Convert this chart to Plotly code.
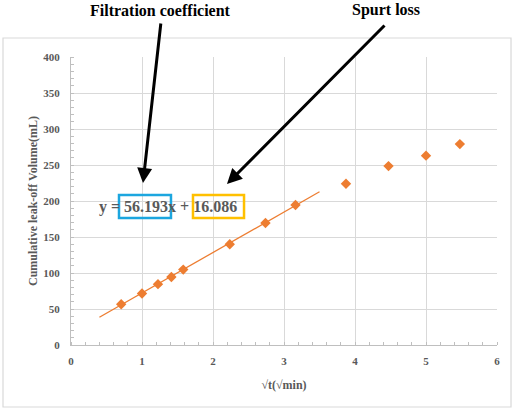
import plotly.graph_objects as go

# measured points: sqrt(t) vs cumulative leak-off volume
sqrt_t = [0.707, 1.0, 1.225, 1.414, 1.581, 2.236, 2.739, 3.162, 3.873, 4.472, 5.0, 5.477]
volume = [56.5, 71.5, 84.5, 94.5, 104.7, 140, 169.5, 194.5, 224, 248.5, 263, 279]

# linear trendline shown on the chart
slope = 56.193
intercept = 16.086
trend_x = [0.4, 3.5]
trend_y = [slope * v + intercept for v in trend_x]

x_ticks = [0, 1, 2, 3, 4, 5, 6]
y_ticks = [0, 50, 100, 150, 200, 250, 300, 350, 400]

SERIF = "Liberation Serif"
GREY = "#595959"
ORANGE = "#ED7D31"

fig = go.Figure()

fig.add_trace(go.Scatter(x=trend_x, y=trend_y, mode="lines",
                         line=dict(color=ORANGE, width=1.3),
                         showlegend=False, hoverinfo="skip"))
fig.add_trace(go.Scatter(x=sqrt_t, y=volume, mode="markers",
                         marker=dict(symbol="diamond", size=8, color=ORANGE),
                         showlegend=False))

fig.update_layout(
    width=520, height=409,
    margin=dict(l=71, r=23, t=57, b=64),
    paper_bgcolor="white", plot_bgcolor="white",
    font=dict(family=SERIF, color=GREY),
    xaxis=dict(range=[0, 6], tickvals=x_ticks, showgrid=True, gridcolor="#D9D9D9",
               showline=True, linecolor="#BFBFBF", zeroline=False, ticks="",
               ticklabelstandoff=6,
               minor=dict(dtick=0.2, ticks="inside", ticklen=3, tickcolor="#BFBFBF", showgrid=False),
               tickfont=dict(family=SERIF, size=11, color=GREY, weight="bold"),
               title=dict(text="√t(√min)", standoff=14,
                          font=dict(family=SERIF, size=12, color=GREY, weight="bold"))),
    yaxis=dict(range=[0, 400], tickvals=y_ticks, showgrid=True, gridcolor="#D9D9D9",
               showline=True, linecolor="#BFBFBF", zeroline=False, ticks="",
               ticklabelstandoff=8,
               minor=dict(dtick=10, ticks="inside", ticklen=3, tickcolor="#BFBFBF", showgrid=False),
               tickfont=dict(family=SERIF, size=11, color=GREY, weight="bold"),
               title=dict(text="Cumulative leak-off Volume(mL)", standoff=3,
                          font=dict(family=SERIF, size=12, color=GREY, weight="bold"))),
)

# outer chart frame
fig.add_shape(type="rect", xref="paper", yref="paper",
              x0=-0.1596, x1=1.0329, y0=-0.2153, y1=1.066,
              line=dict(color="#D9D9D9", width=1.2), layer="below")

# boxes around the coefficients
fig.add_shape(type="rect", x0=0.676, x1=1.408, y0=176.5, y1=208.5,
              line=dict(color="#1CA6DF", width=2.5))
fig.add_shape(type="rect", x0=1.718, x1=2.437, y0=176.5, y1=208.5,
              line=dict(color="#FFC000", width=2.5))

fig.add_annotation(x=1.36, y=192, text="y = 56.193x + 16.086", showarrow=False,
                   font=dict(family=SERIF, size=16, color=GREY, weight="bold"))

# labels and arrows
fig.add_annotation(xref="paper", yref="paper", x=0.209, y=1.163,
                   xanchor="center", yanchor="middle",
                   text="Filtration coefficient", showarrow=False,
                   font=dict(family=SERIF, size=16, color="black", weight="bold"))
fig.add_annotation(xref="paper", yref="paper", x=0.739, y=1.163,
                   xanchor="center", yanchor="middle",
                   text="Spurt loss", showarrow=False,
                   font=dict(family=SERIF, size=16, color="black", weight="bold"))
fig.add_annotation(x=1.014, y=225, ax=18, ay=-161, text="", showarrow=True,
                   arrowhead=2, arrowsize=1, arrowwidth=3, arrowcolor="black")
fig.add_annotation(x=2.197, y=223.6, ax=159, ay=-160, text="", showarrow=True,
                   arrowhead=2, arrowsize=1, arrowwidth=3, arrowcolor="black")

fig.write_html("out.html", config={"displayModeBar": False},
               post_script="document.body.style.margin='0';")
